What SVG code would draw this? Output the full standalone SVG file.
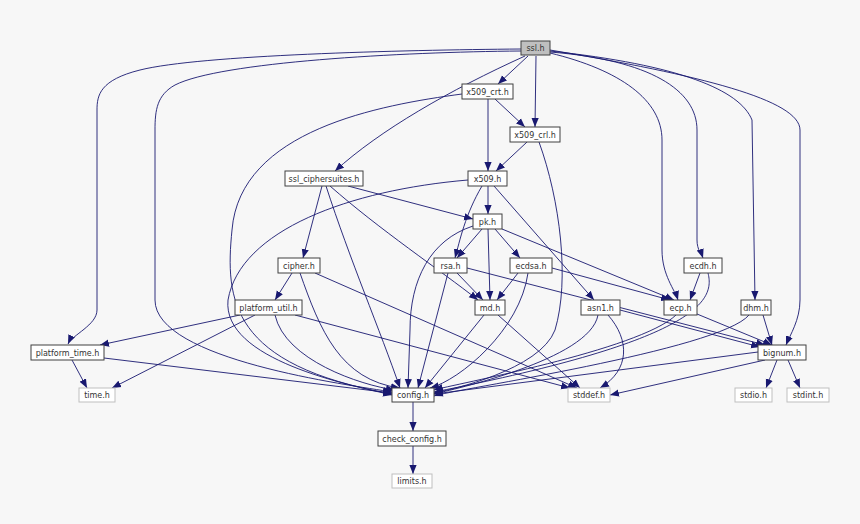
<svg xmlns="http://www.w3.org/2000/svg" width="860" height="524" viewBox="0 0 860 524">
<style>
.n rect{fill:#fff;stroke:#404040;stroke-width:1}
.g rect{fill:#fff;stroke:#bfbfbf;stroke-width:1}
#ssl rect{fill:#bfbfbf}
text{font-family:"DejaVu Sans",sans-serif;font-size:8px;fill:#333;text-anchor:middle}
#edges path{fill:none;stroke:#191970;stroke-width:0.9;marker-end:url(#a)}
</style>
<defs><marker id="a" viewBox="0 0 10 10" refX="10" refY="5" markerWidth="9" markerHeight="9" markerUnits="userSpaceOnUse" orient="auto"><path d="M0,1 L10,5 L0,9z" fill="#191970"/></marker></defs>
<rect width="860" height="524" fill="#f7f7f7"/>
<g id="edges">
<path d="M521,49 C400,50 200,55 140,70 C100,80 97,95 97,110 L97,310 C97,325 72,335 68,344"/>
<path d="M521,51 C400,52 220,62 175,85 C157,95 155,110 155,130 L155,300 C155,360 350,385 392,392"/>
<path d="M550,53 C620,70 662,100 662,140 L662,250 C662,275 675,290 678,300"/>
<path d="M550,52 C650,60 697,90 697,130 L697,240 C697,250 702,255 703,258"/>
<path d="M550,51 C680,65 740,90 752,120 L755,300"/>
<path d="M550,50 C700,75 800,100 800,130 L800,300 C800,320 790,335 786,345"/>
<path d="M525,56 C450,90 380,130 335,171"/>
<path d="M528,56 L498,84"/>
<path d="M536,56 L535,127"/>
<path d="M488,99 L488,171"/>
<path d="M495,99 L525,127"/>
<path d="M462,94 C380,105 240,130 232,230 C225,300 230,365 392,394"/>
<path d="M527,142 L496,171"/>
<path d="M539,142 C560,200 570,280 555,330 C540,370 450,390 434,393"/>
<path d="M468,180 C350,190 240,230 228,300 C222,360 350,385 392,395"/>
<path d="M488,186 L488,214"/>
<path d="M482,186 C465,215 460,240 455,258"/>
<path d="M494,186 L594,300"/>
<path d="M348,186 L473,219"/>
<path d="M322,186 L303,258"/>
<path d="M330,186 C380,230 440,270 478,300"/>
<path d="M326,186 C350,260 380,330 400,388"/>
<path d="M473,226 C430,240 410,280 410,330 L408,388"/>
<path d="M482,229 L457,258"/>
<path d="M495,229 L520,258"/>
<path d="M488,229 L490,300"/>
<path d="M502,229 L674,300"/>
<path d="M448,273 L418,388"/>
<path d="M457,273 L483,300"/>
<path d="M467,268 L765,345"/>
<path d="M518,273 L497,300"/>
<path d="M552,268 L670,300"/>
<path d="M528,273 C520,330 460,380 430,388"/>
<path d="M700,273 L690,300"/>
<path d="M708,273 C715,300 700,340 434,392"/>
<path d="M292,273 L275,300"/>
<path d="M300,273 C320,330 340,380 400,388"/>
<path d="M315,273 L577,388"/>
<path d="M240,315 L100,345"/>
<path d="M255,315 L112,388"/>
<path d="M275,315 C285,360 360,385 395,390"/>
<path d="M295,315 L570,388"/>
<path d="M484,315 L425,388"/>
<path d="M498,315 L580,388"/>
<path d="M598,315 C590,360 450,390 434,394"/>
<path d="M620,310 L760,347"/>
<path d="M608,315 C630,340 630,370 600,388"/>
<path d="M676,315 C640,350 450,385 434,390"/>
<path d="M697,314 L772,345"/>
<path d="M749,315 C720,350 450,390 434,396"/>
<path d="M763,315 L772,345"/>
<path d="M104,358 L392,393"/>
<path d="M72,360 L87,388"/>
<path d="M758,352 L434,394"/>
<path d="M765,360 L610,395"/>
<path d="M777,360 L766,388"/>
<path d="M788,360 L800,388"/>
<path d="M413,402 L413,431"/>
<path d="M413,446 L413,474"/>
</g>
<g id="ssl" class="n"><rect x="521" y="41" width="29" height="14"/><text x="535.5" y="51">ssl.h</text></g>
<g id="x509_crt" class="n"><rect x="462" y="84" width="51" height="15"/><text x="487.5" y="94.5">x509_crt.h</text></g>
<g id="x509_crl" class="n"><rect x="510" y="127" width="50" height="15"/><text x="535" y="137.5">x509_crl.h</text></g>
<g id="x509" class="n"><rect x="468" y="171" width="39" height="15"/><text x="487.5" y="181.5">x509.h</text></g>
<g id="ssl_ciphersuites" class="n"><rect x="285" y="171" width="78" height="15"/><text x="324" y="181.5">ssl_ciphersuites.h</text></g>
<g id="pk" class="n"><rect x="473" y="214" width="29" height="15"/><text x="487.5" y="224.5">pk.h</text></g>
<g id="rsa" class="n"><rect x="434" y="258" width="33" height="15"/><text x="450.5" y="268.5">rsa.h</text></g>
<g id="ecdsa" class="n"><rect x="510" y="258" width="42" height="15"/><text x="531" y="268.5">ecdsa.h</text></g>
<g id="ecdh" class="n"><rect x="684" y="258" width="38" height="15"/><text x="703" y="268.5">ecdh.h</text></g>
<g id="cipher" class="n"><rect x="278" y="258" width="42" height="15"/><text x="299" y="268.5">cipher.h</text></g>
<g id="platform_util" class="n"><rect x="235" y="300" width="67" height="15"/><text x="268.5" y="310.5">platform_util.h</text></g>
<g id="md" class="n"><rect x="475" y="300" width="30" height="15"/><text x="490" y="310.5">md.h</text></g>
<g id="asn1" class="n"><rect x="581" y="300" width="39" height="15"/><text x="600.5" y="310.5">asn1.h</text></g>
<g id="ecp" class="n"><rect x="664" y="300" width="33" height="15"/><text x="680.5" y="310.5">ecp.h</text></g>
<g id="dhm" class="n"><rect x="741" y="300" width="30" height="15"/><text x="756" y="310.5">dhm.h</text></g>
<g id="platform_time" class="n"><rect x="31" y="345" width="73" height="15"/><text x="67.5" y="355.5">platform_time.h</text></g>
<g id="bignum" class="n"><rect x="758" y="345" width="48" height="15"/><text x="782" y="355.5">bignum.h</text></g>
<g id="time" class="g"><rect x="79" y="388" width="36" height="14"/><text x="97" y="398">time.h</text></g>
<g id="config" class="n"><rect x="392" y="388" width="42" height="14"/><text x="413" y="398">config.h</text></g>
<g id="stddef" class="g"><rect x="568" y="388" width="42" height="14"/><text x="589" y="398">stddef.h</text></g>
<g id="stdio" class="g"><rect x="735" y="388" width="37" height="14"/><text x="753.5" y="398">stdio.h</text></g>
<g id="stdint" class="g"><rect x="787" y="388" width="42" height="14"/><text x="808" y="398">stdint.h</text></g>
<g id="check_config" class="n"><rect x="378" y="431" width="68" height="15"/><text x="412" y="441.5">check_config.h</text></g>
<g id="limits" class="g"><rect x="392" y="474" width="40" height="14"/><text x="412" y="484">limits.h</text></g>
</svg>
